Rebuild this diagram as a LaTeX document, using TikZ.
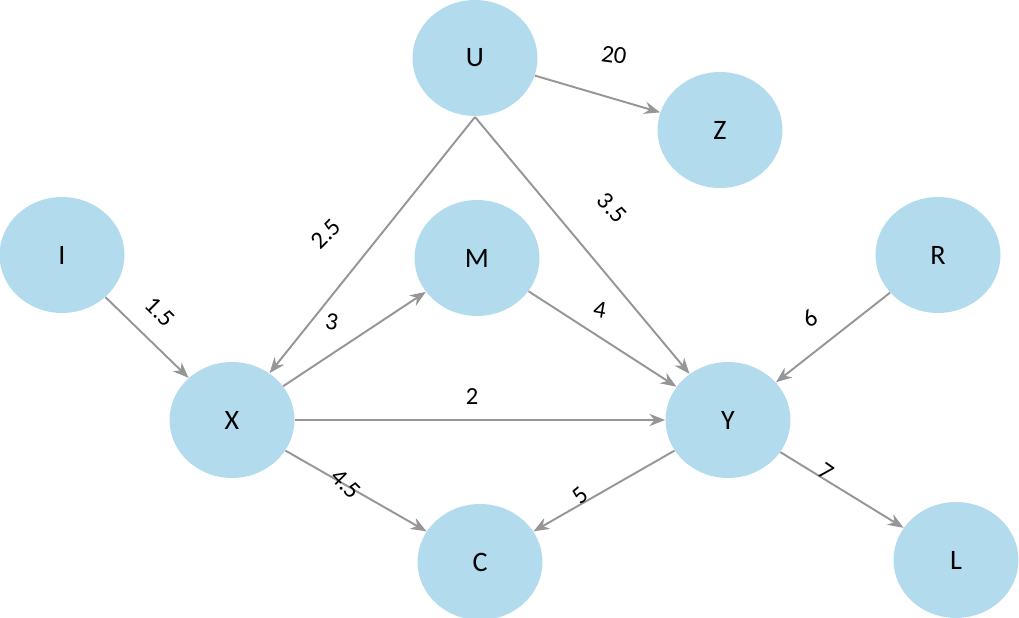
\documentclass[tikz,border=0pt]{standalone}
\usepackage{fontspec}
\setmainfont{Carlito}
\usetikzlibrary{arrows.meta,shapes.geometric}
\definecolor{nodeblue}{RGB}{178,220,238}
\definecolor{edgegray}{RGB}{150,150,150}
\begin{document}
\begin{tikzpicture}[x=0.02cm,y=-0.02cm,
  vnode/.style={ellipse,fill=nodeblue,minimum width=2.5cm,minimum height=2.32cm,inner sep=0pt,font=\fontsize{16}{18}\selectfont},
  edge/.style={draw=edgegray,line width=1.1pt,-{Stealth[length=9pt,width=7pt]}},
  lab/.style={font=\fontsize{14}{16}\selectfont,inner sep=1pt}]
\useasboundingbox (0,0) rectangle (1019,618);
\node[vnode] (U) at (475,58) {U};
\node[vnode] (Z) at (720,130) {Z};
\node[vnode] (I) at (62,255) {I};
\node[vnode] (M) at (477,258) {M};
\node[vnode] (R) at (938,255) {R};
\node[vnode] (X) at (232,420) {X};
\node[vnode] (Y) at (728,420) {Y};
\node[vnode] (C) at (480,562) {C};
\node[vnode] (L) at (956,560) {L};
\coordinate (Ub) at (475,117);
\draw[edge] (U) -- (Z);
\draw[edge] (Ub) -- (X);
\draw[edge] (Ub) -- (Y);
\draw[edge] (I) -- (X);
\draw[edge] (X) -- (M);
\draw[edge] (M) -- (Y);
\draw[edge] (R) -- (Y);
\draw[edge] (X) -- (Y);
\draw[edge] (X) -- (C);
\draw[edge] (Y) -- (C);
\draw[edge] (Y) -- (L);
\node[lab,rotate=-8] (l20) at (614,55) {20};
\node[lab,rotate=45] (l25) at (326,234) {2.5};
\node[lab,rotate=-47] (l35) at (612,208) {3.5};
\node[lab,rotate=-45] (l15) at (160,312) {1.5};
\node[lab,rotate=-10] (l3) at (332,322) {3};
\node[lab,rotate=-10] (l4) at (600,310) {4};
\node[lab,rotate=30] (l6) at (810,318) {6};
\node[lab] (l2) at (472,397) {2};
\node[lab,rotate=-45] (l45) at (346,484) {4.5};
\node[lab,rotate=40] (l5) at (580,496) {5};
\node[lab,rotate=-35] (l7) at (826,472) {7};
\end{tikzpicture}
\end{document}
